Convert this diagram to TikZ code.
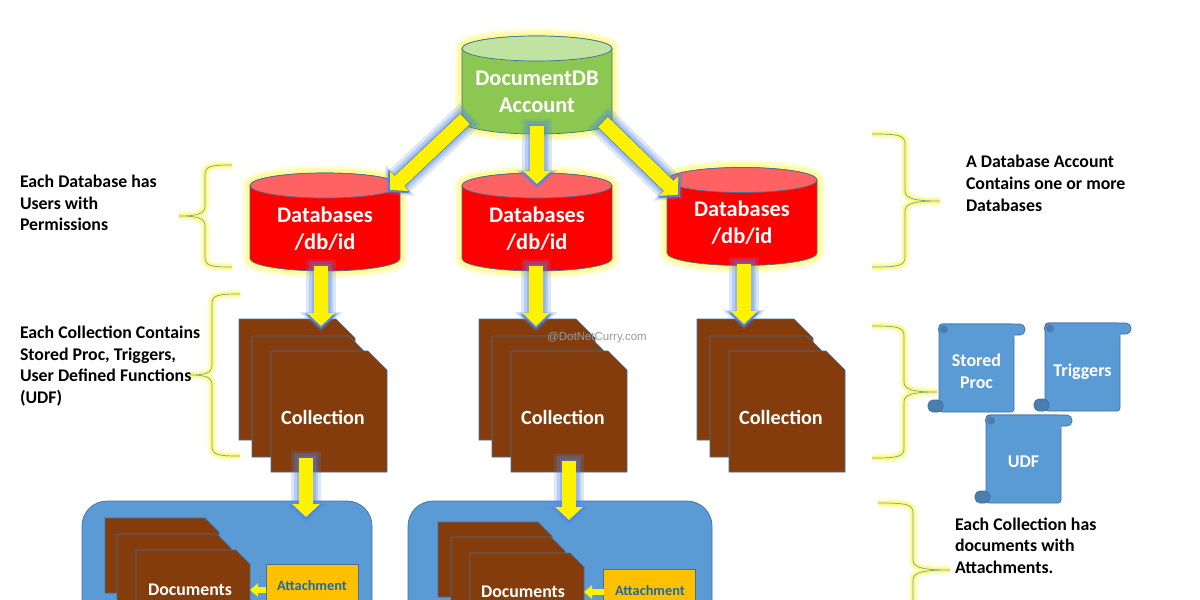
\documentclass[tikz,border=0pt]{standalone}
\usepackage{fontspec}
\setmainfont{Carlito}
\usetikzlibrary{positioning,calc,arrows.meta}

\definecolor{acctgreen}{HTML}{8CC751}
\definecolor{accttop}{HTML}{C0E3A2}
\definecolor{dbred}{HTML}{FF0000}
\definecolor{dbtop}{HTML}{FF6262}
\definecolor{sheetbrown}{HTML}{843C0C}
\definecolor{officeblue}{HTML}{5B9BD5}
\definecolor{edgeblue}{HTML}{41719C}
\definecolor{rollblue}{HTML}{4A7EB0}
\definecolor{attachgold}{HTML}{FFC000}
\definecolor{attachtext}{HTML}{1F6AA5}
\definecolor{bracegreen}{HTML}{6FA8A8}
\definecolor{glowblue}{HTML}{4F86EC}

\newcommand{\curly}[6]{
\draw[bracelines] (#1,#4) .. controls ({#2+(#1-#2)*.2},#4) and (#2,#4+1) .. (#2,#4+10) -- (#2,#5-10)
  .. controls (#2,#5-2) and ({#2+(#3-#2)*.3},#5) .. (#3,#5)
  .. controls ({#2+(#3-#2)*.3},#5) and (#2,#5+2) .. (#2,#5+10) -- (#2,#6-10)
  .. controls (#2,#6-1) and ({#2+(#1-#2)*.2},#6) .. (#1,#6);
}
\newcommand{\barrel}[3]{
\draw[barrelline,fill=#2] ([yshift=-12.5pt]#1.north west) -- ([yshift=12.5pt]#1.south west)
  arc[start angle=180,end angle=360,x radius=75pt,y radius=12.5pt] -- ([yshift=-12.5pt]#1.north east)
  arc[start angle=0,end angle=180,x radius=75pt,y radius=12.5pt] -- cycle;
\draw[draw=edgeblue,line width=.7pt,fill=#3] ([yshift=-12.5pt]#1.north) ellipse [x radius=75pt,y radius=12.5pt];
}
\newcommand{\snip}[2]{
\draw[sheetline] (#1.south west) -- (#1.north west) -- ([xshift=-#2]#1.north east)
  -- ([yshift=-#2]#1.north east) -- (#1.south east) -- cycle;
}
\newcommand{\scrollshape}[4]{
\node (#1) [scrollbody] at (#2,#3) {};
\draw[scrollroll] ([xshift=-.5pt]#1.north west) rectangle ([xshift=11pt,yshift=-11pt]#1.north east);
\fill[officeblue] ([xshift=.5pt,yshift=-8pt]#1.north west) rectangle ([xshift=-.5pt,yshift=-14pt]#1.north east);
\fill[rollblue] ([xshift=5pt,yshift=-5.5pt]#1.north west) circle (4pt);
\draw[scrollroll,fill=rollblue] ([xshift=-11pt,yshift=12pt]#1.south west) rectangle ([xshift=4pt]#1.south west);
\node (#1 text) [scrolltext] at ([yshift=-3pt]#1.center) {#4};
}

\begin{document}
\begin{tikzpicture}[
    x=1pt,y=-1pt,
    every node/.style={inner sep=0pt,outer sep=0pt},
    barrelline/.style={draw=edgeblue,line width=.7pt,line join=round,
      preaction={draw=yellow!10,line width=16pt},
      preaction={draw=yellow!22,line width=12pt},
      preaction={draw=yellow!42,line width=7pt}},
    bracelines/.style={draw=bracegreen,line width=.7pt,line join=round,line cap=round,
      preaction={draw=yellow!10,line width=10pt},
      preaction={draw=yellow!25,line width=7pt},
      preaction={draw=yellow!50,line width=4pt}},
    cyl/.style={rectangle,minimum width=150pt,minimum height=98pt},
    cyltext/.style={text=white,align=center,font=\fontsize{22.4}{27}\selectfont\bfseries},
    sheetline/.style={draw=edgeblue,line width=.7pt,fill=sheetbrown,line join=miter},
    collection/.style={rectangle,minimum width=116pt,minimum height=121pt,on grid},
    documents/.style={rectangle,minimum width=114pt,minimum height=75pt,on grid},
    sheettext/.style={text=white,font=\fontsize{20.2}{24}\selectfont\bfseries},
    doctext/.style={text=white,font=\fontsize{17.8}{20}\selectfont\bfseries},
    docbox/.style={rectangle,rounded corners=25pt,draw=edgeblue,line width=.7pt,fill=officeblue,minimum height=139pt},
    attach/.style={rectangle,draw=edgeblue,line width=.7pt,fill=attachgold,minimum width=92pt,minimum height=60pt},
    attachlabel/.style={text=attachtext,font=\fontsize{14.3}{16}\selectfont\bfseries},
    scrollbody/.style={rectangle,rounded corners=3pt,draw=edgeblue,line width=.7pt,fill=officeblue,minimum width=75pt,minimum height=88pt},
    scrollroll/.style={rounded corners=5pt,draw=edgeblue,line width=.7pt,fill=officeblue},
    scrolltext/.style={text=white,align=center,font=\fontsize{18}{22}\selectfont\bfseries},
    notes/.style={align=left,anchor=west,text=black,font=\fontsize{17.8}{21.7}\selectfont\bfseries},
    blockarrow/.style={line width=14pt,draw=yellow,-{Triangle[length=13pt 0 0,width=27pt 0 0]},
      preaction={draw=glowblue,draw opacity=.2,line width=30pt,shorten <=-7pt,shorten >=-6pt,-{Triangle[length=20pt 0 0,width=42pt 0 0]}},
      preaction={draw=glowblue,draw opacity=.25,line width=24pt,shorten <=-5pt,shorten >=-4pt,-{Triangle[length=17pt 0 0,width=36pt 0 0]}},
      preaction={draw=glowblue,draw opacity=.3,line width=19pt,shorten <=-2pt,shorten >=-2pt,-{Triangle[length=15pt 0 0,width=32pt 0 0]}}},
    edged/.style={preaction={draw=edgeblue,line width=15pt,shorten <=-.5pt,shorten >=-.7pt,-{Triangle[length=14pt 0 0,width=29pt 0 0]}}},
    smallarrow/.style={line width=6pt,draw=yellow,-{Triangle[length=8pt 0 0,width=13pt 0 0]}},
  ]
\useasboundingbox (0,0) rectangle (1200,600);
\fill[white] (0,0) rectangle (1200,600);

% braces
\curly{232}{205}{179}{165}{216}{267}
\curly{240}{212}{190}{294}{375}{456}
\curly{872}{905}{940}{134}{201}{267}
\curly{872}{904}{937}{326}{392}{458}
\curly{878}{913}{950}{503}{570}{637}

% account and databases
\node (account) [cyl] at (537,85) {}; \barrel{account}{acctgreen}{accttop}
\node (account label) [cyltext] at (537,92) {DocumentDB\\Account};
\node (db1) [cyl] at (325,222) {}; \barrel{db1}{dbred}{dbtop}
\node (db1 label) [cyltext] at (325,228.5) {Databases\\/db/id};
\node (db2) [cyl] at (537,222) {}; \barrel{db2}{dbred}{dbtop}
\node (db2 label) [cyltext] at (537,228.5) {Databases\\/db/id};
\node (db3) [cyl] at (742,216.5) {}; \barrel{db3}{dbred}{dbtop}
\node (db3 label) [cyltext] at (742,222.5) {Databases\\/db/id};

% collections
\node (coll1 back) [collection] at (297,379.5) {}; \snip{coll1 back}{19pt}
\node (coll1 mid) [collection,below right=17pt and 13pt of coll1 back] {}; \snip{coll1 mid}{19pt}
\node (coll1 front) [collection,below right=15pt and 19pt of coll1 mid] {}; \snip{coll1 front}{19pt}
\node (coll1 label) [sheettext] at (323,417) {Collection};
\node (coll2 back) [collection] at (537,379.5) {}; \snip{coll2 back}{19pt}
\node (coll2 mid) [collection,below right=17pt and 13pt of coll2 back] {}; \snip{coll2 mid}{19pt}
\node (coll2 front) [collection,below right=15pt and 19pt of coll2 mid] {}; \snip{coll2 front}{19pt}
\node (coll2 label) [sheettext] at (563,417) {Collection};
\node (coll3 back) [collection] at (755,379.5) {}; \snip{coll3 back}{19pt}
\node (coll3 mid) [collection,below right=17pt and 13pt of coll3 back] {}; \snip{coll3 mid}{19pt}
\node (coll3 front) [collection,below right=15pt and 19pt of coll3 mid] {}; \snip{coll3 front}{19pt}
\node (coll3 label) [sheettext] at (781,417) {Collection};

% document boxes
\node (box1) [docbox,minimum width=290pt] at (227,570.5) {};
\node (docs1 back) [documents] at (162,555.5) {}; \snip{docs1 back}{14pt}
\node (docs1 mid) [documents,below right=16pt and 12pt of docs1 back] {}; \snip{docs1 mid}{14pt}
\node (docs1 front) [documents,below right=16pt and 19pt of docs1 mid] {}; \snip{docs1 front}{14pt}
\node (docs1 label) [doctext] at (190,590) {Documents};
\node (attach1) [attach] at (312,594) {};
\node (attach1 label) [attachlabel] at (312,586) {Attachment};
\node (box2) [docbox,minimum width=304pt] at (560,570.5) {};
\node (docs2 back) [documents] at (495,559.5) {}; \snip{docs2 back}{14pt}
\node (docs2 mid) [documents,below right=15pt and 13pt of docs2 back] {}; \snip{docs2 mid}{14pt}
\node (docs2 front) [documents,below right=16pt and 19pt of docs2 mid] {}; \snip{docs2 front}{14pt}
\node (docs2 label) [doctext] at (523,592) {Documents};
\node (attach2) [attach] at (649.5,599) {};
\node (attach2 label) [attachlabel] at (650,591) {Attachment};

% scrolls
\scrollshape{stored}{976.5}{368}{Stored\\Proc}
\scrollshape{triggers}{1082.5}{367}{\raisebox{0pt}[\height][0pt]{Triggers}}
\scrollshape{udf}{1023.5}{459}{UDF}

% notes
\node (db note) [notes] at (20,203) {Each Database has\\Users with\\Permissions};
\node (coll note) [notes] at (20,366) {Each Collection Contains\\Stored Proc, Triggers,\\User Defined Functions\\(UDF)};
\node (account note) [notes] at (966,183.5) {A Database Account\\Contains one or more\\Databases};
\node (docs note) [notes] at (955,545.5) {Each Collection has\\documents with\\Attachments.};

% arrows
\draw[blockarrow] ($(account.center)+(0,41)$) -- ($(db2.center)+(0,-38)$);
\draw[blockarrow,edged] ($(account.center)+(-72,34)$) -- ($(db1.center)+(65,-32)$);
\draw[blockarrow,edged] ($(account.center)+(66,37)$) -- ($(db3.center)+(-64,-21.5)$);
\draw[blockarrow] ($(db1.center)+(-4,44)$) -- ($(coll1 back.north)+(24,7)$);
\draw[blockarrow] ($(db2.center)+(-1,44)$) -- ($(coll2 back.north)+(-1,7)$);
\draw[blockarrow] ($(db3.center)+(2,47.5)$) -- ($(coll3 back.north)+(-11,5)$);
\draw[blockarrow] ($(coll1 front.south)+(-23,-14)$) -- ($(box1.north)+(79,16)$);
\draw[blockarrow] ($(coll2 front.south)+(0,-11)$) -- ($(box2.north)+(9,19)$);
\draw[smallarrow] (attach1.west |- docs1 label.center) -- (docs1 front.east |- docs1 label.center);
\draw[smallarrow] (attach2.west |- docs2 label.center) -- (docs2 front.east |- docs2 label.center);

\node (watermark) [text=black!40,font=\fontsize{11.5}{14}\selectfont\fontspec{Liberation Sans}] at (597,338) {@DotNetCurry.com};
\end{tikzpicture}
\end{document}
